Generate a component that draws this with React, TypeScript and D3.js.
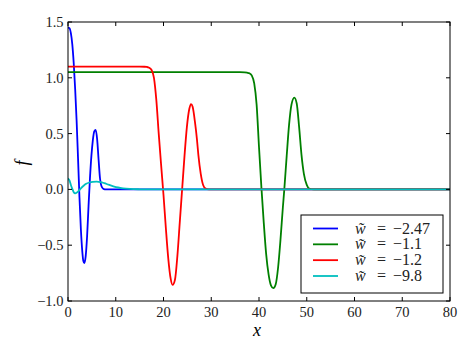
import React from 'react';
import * as d3 from 'd3';

// series
const blueX = [0, 0.3, 0.6, 0.9, 1.2, 1.5, 1.8, 2.1, 2.4, 2.7, 3.0, 3.2, 3.42, 3.7, 4.0, 4.3, 4.6, 4.9, 5.2, 5.5, 5.8, 6.1, 6.4, 6.7, 7.0, 7.4, 8, 9, 10, 80];
const blueY = [1.45, 1.445, 1.4, 1.3, 1.13, 0.9, 0.62, 0.28, -0.07, -0.36, -0.56, -0.64, -0.66, -0.6, -0.42, -0.15, 0.1, 0.3, 0.44, 0.52, 0.533, 0.45, 0.27, 0.1, 0.03, 0.005, 0, 0, 0, 0];

const greenX = [0, 10, 20, 30, 36, 37, 37.5, 38, 38.5, 39, 39.5, 40, 40.5, 41, 41.5, 42, 42.5, 43.0, 43.5, 44, 44.5, 45, 45.3, 45.8, 46.3, 46.8, 47.4, 47.9, 48.4, 48.9, 49.4, 50.0, 50.5, 51.5, 80];
const greenY = [1.05, 1.05, 1.05, 1.05, 1.05, 1.049, 1.046, 1.04, 1.02, 0.95, 0.76, 0.38, 0.02, -0.3, -0.58, -0.76, -0.86, -0.885, -0.85, -0.7, -0.45, -0.16, 0.0, 0.3, 0.58, 0.76, 0.823, 0.77, 0.56, 0.31, 0.14, 0.04, 0.008, 0, 0];

const redX = [0, 5, 10, 15, 16, 16.5, 17, 17.5, 18, 18.5, 19, 19.5, 20, 20.5, 21, 21.5, 21.9, 22.4, 22.9, 23.4, 23.9, 24.4, 24.9, 25.4, 25.76, 26.1, 26.6, 27.0, 27.3, 27.8, 28.3, 28.8, 29.5, 80];
const redY = [1.1, 1.1, 1.1, 1.1, 1.099, 1.097, 1.09, 1.07, 1.0, 0.8, 0.5, 0.22, -0.05, -0.35, -0.62, -0.8, -0.856, -0.81, -0.6, -0.3, 0.0, 0.3, 0.56, 0.72, 0.765, 0.74, 0.6, 0.45, 0.31, 0.14, 0.04, 0.008, 0, 0];

const cyanX = [0, 0.3, 0.6, 0.9, 1.2, 1.5, 1.8, 2.2, 2.7, 3.2, 3.8, 4.5, 5.2, 6.0, 6.8, 7.6, 8.5, 9.5, 10.5, 11.5, 13, 15, 17, 80];
const cyanY = [0.1, 0.08, 0.04, 0.005, -0.025, -0.035, -0.03, -0.015, 0.01, 0.03, 0.05, 0.062, 0.068, 0.07, 0.066, 0.056, 0.042, 0.028, 0.017, 0.01, 0.004, 0.001, 0, 0];

const seriesNames = ['2.47', '1.1', '1.2', '9.8'];
const seriesColors = ['#0000ff', '#008000', '#ff0000', '#00bfbf'];

const xTicks = [0, 10, 20, 30, 40, 50, 60, 70, 80];
const yTicks = [-1.0, -0.5, 0.0, 0.5, 1.0, 1.5];

const W = 474;
const H = 354;
const left = 68, right = 450, top = 22, bottom = 301;
const font = 'Liberation Serif';

export default function App() {
    const x = d3.scaleLinear().domain([0, 80]).range([left, right]);
    const y = d3.scaleLinear().domain([-1, 1.5]).range([bottom, top]);

    const series = [[blueX, blueY], [greenX, greenY], [redX, redY], [cyanX, cyanY]];
    const line = d3.line<[number, number]>().x(d => x(d[0])).y(d => y(d[1])).curve(d3.curveMonotoneX);

    const paths = series.map((s, i) => {
        const pts = s[0].map((v, j) => [v, s[1][j]] as [number, number]);
        return <path key={i} d={line(pts) || ''} fill="none" stroke={seriesColors[i]} strokeWidth={1.8} clipPath="url(#plotclip)" />;
    });

    const fmtY = (v: number) => (v < 0 ? '\u2212' : '') + Math.abs(v).toFixed(1);

    // legend box
    const lgLeft = 301, lgTop = 215, lgRight = 443, lgBottom = 293;
    const rowY = d3.scaleLinear().domain([0, 3]).range([228.5, 276]);

    return (
        <svg width={W} height={H} style={{ position: 'absolute', left: 0, top: 0, background: 'white' }}>
            <defs>
                <clipPath id="plotclip">
                    <rect x={left} y={top} width={right - left} height={bottom - top} />
                </clipPath>
            </defs>
            <rect x={0} y={0} width={W} height={H} fill="white" />
            {paths}
            {/* ticks, inward on all four sides */}
            <g stroke="black" strokeWidth={1}>
                {xTicks.map(t => (
                    <g key={'xt' + t}>
                        <line x1={x(t)} x2={x(t)} y1={bottom} y2={bottom - 4} />
                        <line x1={x(t)} x2={x(t)} y1={top} y2={top + 4} />
                    </g>
                ))}
                {yTicks.map(t => (
                    <g key={'yt' + t}>
                        <line x1={left} x2={left + 4} y1={y(t)} y2={y(t)} />
                        <line x1={right} x2={right - 4} y1={y(t)} y2={y(t)} />
                    </g>
                ))}
            </g>
            <rect x={left} y={top} width={right - left} height={bottom - top} fill="none" stroke="black" strokeWidth={1} />
            <g fontSize={14.5} fill="#222" fontFamily={font}>
                {xTicks.map(t => (
                    <text key={'xl' + t} x={x(t)} y={317} textAnchor="middle">{t}</text>
                ))}
                {yTicks.map(t => (
                    <text key={'yl' + t} x={63.5} y={y(t) + 5} textAnchor="end">{fmtY(t)}</text>
                ))}
            </g>
            <text x={257} y={336} fontSize={18} fontStyle="italic" textAnchor="middle" fontFamily={font}>x</text>
            <text transform={`translate(28,163) rotate(-90)`} fontSize={18} fontStyle="italic" textAnchor="middle" fontFamily={font}>f</text>
            <g fontFamily={font}>
                <rect x={lgLeft} y={lgTop} width={lgRight - lgLeft} height={lgBottom - lgTop} fill="white" stroke="black" strokeWidth={1} />
                {seriesNames.map((n, i) => (
                    <g key={'lg' + i}>
                        <line x1={313} x2={338} y1={rowY(i)} y2={rowY(i)} stroke={seriesColors[i]} strokeWidth={1.8} />
                        <text x={355} y={rowY(i) + 5} fontSize={16} fill="#222">
                            <tspan fontStyle="italic">{'w\u0303'}</tspan>
                            <tspan x={377}>=</tspan>
                            <tspan x={393}>{'\u2212'}</tspan>
                            <tspan x={402}>{n}</tspan>
                        </text>
                    </g>
                ))}
            </g>
        </svg>
    );
}
